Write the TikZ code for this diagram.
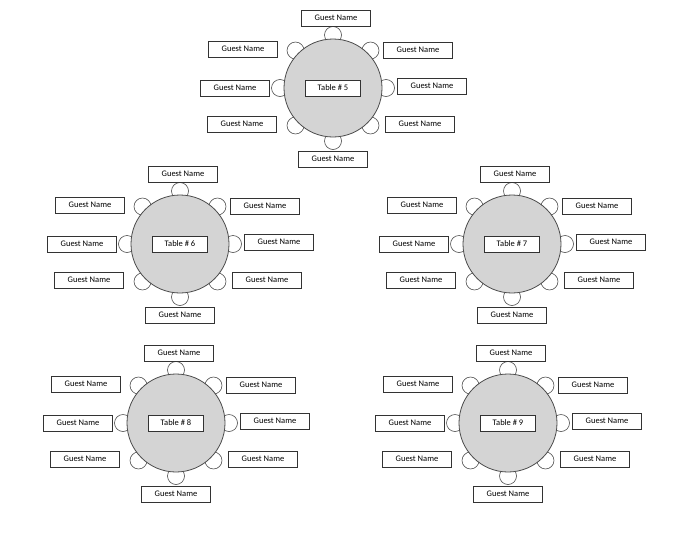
\documentclass[tikz,border=0pt]{standalone}
\usepackage{fontspec}
\setmainfont{Carlito}
\begin{document}
\begin{tikzpicture}[x=1pt,y=-1pt,
  guest/.style={draw=black!80,fill=white,minimum width=69pt,minimum height=16pt,inner sep=0pt,font=\fontsize{8.5}{10}\selectfont},
  tbl/.style={draw=black!70,fill=black!17,line width=0.8pt},
  chair/.style={draw=black!70,fill=white,line width=0.6pt},
  tlabel/.style={draw=black!80,fill=white,minimum width=55pt,minimum height=16pt,inner sep=0pt,font=\fontsize{8.5}{10}\selectfont}]
\useasboundingbox (0,0) rectangle (690,533);
\foreach \cx/\cy/\n in {333/88/5,180/244/6,512/244/7,176/423/8,508/423/9} {
  \begin{scope}[shift={(\cx,\cy)}]
  \foreach \a in {0,45,...,315} \draw[chair] (\a:53) circle (8.5);
  \draw[tbl] (0,0) circle (49);
  \node[tlabel] (t\n) at (0,0) {Table \# \n};
  \node[guest] (ga\n) at (3,-70) {Guest Name};
  \node[guest] (gb\n) at (-90,-39) {Guest Name};
  \node[guest] (gc\n) at (85,-38) {Guest Name};
  \node[guest] (gd\n) at (-98,0) {Guest Name};
  \node[guest] (ge\n) at (99,-2) {Guest Name};
  \node[guest] (gf\n) at (-91,36) {Guest Name};
  \node[guest] (gg\n) at (87,36) {Guest Name};
  \node[guest] (gh\n) at (0,71) {Guest Name};
  \end{scope}
}
\end{tikzpicture}
\end{document}
